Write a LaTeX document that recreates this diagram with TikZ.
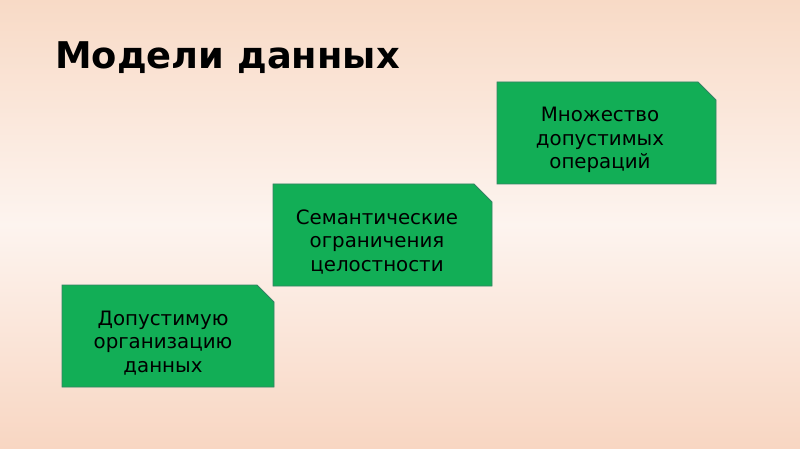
\documentclass[tikz,border=0pt]{standalone}
\usepackage{fontspec}
\setmainfont{DejaVu Sans}
\definecolor{bgtop}{RGB}{248,218,198}
\definecolor{bgmid}{RGB}{253,244,239}
\definecolor{bgbot}{RGB}{248,214,194}
\definecolor{boxgreen}{RGB}{18,174,86}
\definecolor{boxedge}{RGB}{52,130,100}
\begin{document}
\begin{tikzpicture}[x=1pt,y=-1pt,
  snipbox/.style={fill=boxgreen,draw=boxedge,line width=0.8pt,line join=miter},
  boxtext/.style={align=center,font=\fontsize{19.8}{23.5}\selectfont,text=black,inner sep=0pt},
  titletext/.style={anchor=base west,font=\fontsize{36.8}{42}\selectfont\bfseries,inner sep=0pt}]
  \useasboundingbox (0,0) rectangle (800,449);
  \shade[top color=bgtop,bottom color=bgmid,shading angle=0] (0,0) rectangle (800,225);
  \shade[top color=bgmid,bottom color=bgbot] (0,224.5) rectangle (800,449);
  \node[titletext] (title) at (55,69) {Модели данных};
  % box 1 (top right)
  \draw[snipbox] (497,82) -- (698,82) -- (716,100) -- (716,184) -- (497,184) -- cycle;
  \node[boxtext] (b1) at (600,140) {Множество\\допустимых\\операций};
  % box 2 (middle)
  \draw[snipbox] (273,184) -- (474,184) -- (492,202) -- (492,286) -- (273,286) -- cycle;
  \node[boxtext] (b2) at (377,242) {Семантические\\ограничения\\целостности};
  % box 3 (bottom left)
  \draw[snipbox] (62,285) -- (257,285) -- (274,302) -- (274,387) -- (62,387) -- cycle;
  \node[boxtext] (b3) at (163,343) {Допустимую\\организацию\\данных};
\end{tikzpicture}
\end{document}
